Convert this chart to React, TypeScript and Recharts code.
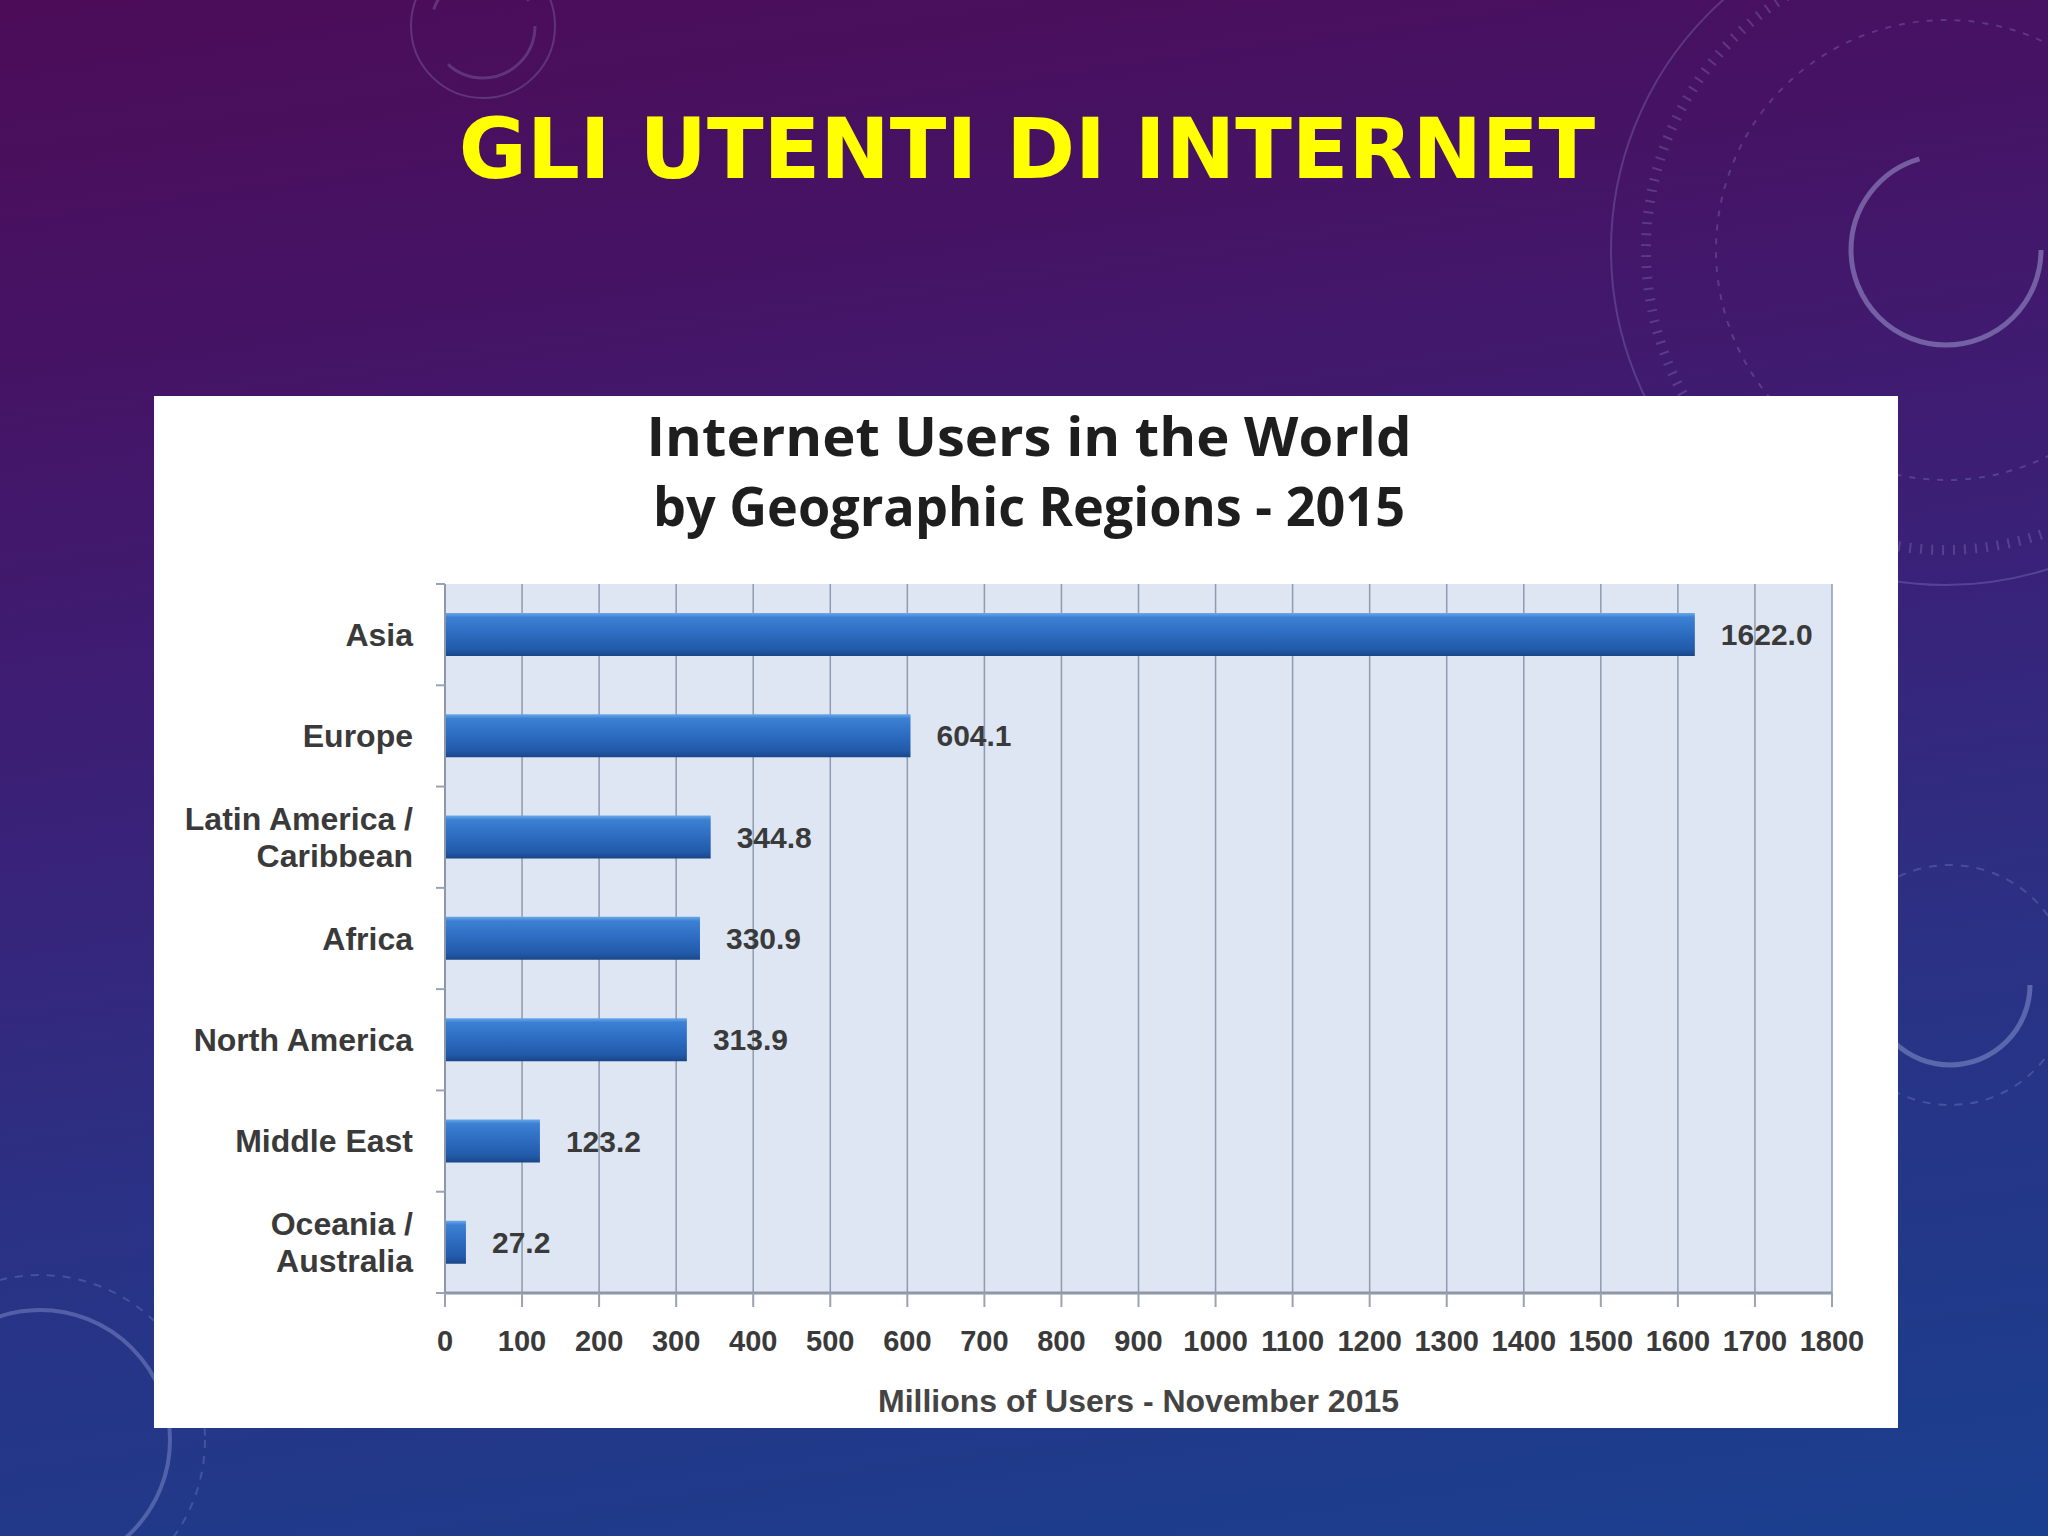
import { Bar, BarChart, CartesianGrid, LabelList, XAxis, YAxis } from 'recharts'

const REGIONS = [
  'Asia',
  'Europe',
  'Latin America /\nCaribbean',
  'Africa',
  'North America',
  'Middle East',
  'Oceania  /\nAustralia',
]

const USERS = [1622.0, 604.1, 344.8, 330.9, 313.9, 123.2, 27.2]

const X_TICKS = [
  0, 100, 200, 300, 400, 500, 600, 700, 800, 900,
  1000, 1100, 1200, 1300, 1400, 1500, 1600, 1700, 1800,
]

const SLIDE_TITLE = 'GLI UTENTI DI INTERNET'
const CHART_TITLE = ['Internet Users in the World', 'by Geographic Regions - 2015']
const X_LABEL = 'Millions of Users - November 2015'

const data = REGIONS.map((region, i) => ({ region, users: USERS[i] }))

const CHART_W = 1744
const CHART_H = 1032
const MARGIN = { top: 188, right: 66, bottom: 0, left: 0 }
const X_AXIS_H = 135
const BAND = (CHART_H - MARGIN.top - X_AXIS_H) / REGIONS.length

const LABEL_FONT = '"Liberation Sans", Arial, sans-serif'

function RegionTick({ x, y, payload, index }: any) {
  const lines = String(payload.value).split('\n')
  const axisX = x + 8
  const lineH = 37
  const startY = y - ((lines.length - 1) * lineH) / 2
  return (
    <g>
      <line x1={axisX - 9} x2={axisX} y1={y - BAND / 2} y2={y - BAND / 2} stroke="#9aa3b2" strokeWidth={2} />
      {index === REGIONS.length - 1 && (
        <line x1={axisX - 9} x2={axisX} y1={y + BAND / 2} y2={y + BAND / 2} stroke="#9aa3b2" strokeWidth={2} />
      )}
      <text
        x={axisX - 32}
        y={startY}
        textAnchor="end"
        dominantBaseline="central"
        fill="#3a3a3a"
        fontSize={32}
        fontWeight="bold"
        fontFamily={LABEL_FONT}
      >
        {lines.map((line, i) => (
          <tspan key={i} x={axisX - 32} dy={i === 0 ? 0 : lineH}>
            {line}
          </tspan>
        ))}
      </text>
    </g>
  )
}

function Decorations() {
  const ring = 'rgba(190,200,255,0.2)'
  return (
    <svg width={2048} height={1536} style={{ position: 'absolute', left: 0, top: 0 }}>
      <circle cx={483} cy={26} r={72} fill="none" stroke={ring} strokeWidth={2} />
      <circle cx={483} cy={26} r={52} fill="none" stroke={ring} strokeWidth={3} strokeDasharray="120 60" />
      <circle cx={1946} cy={250} r={335} fill="none" stroke={ring} strokeWidth={2} />
      <circle cx={1946} cy={250} r={300} fill="none" stroke={ring} strokeWidth={10} strokeDasharray="2 9" />
      <circle cx={1946} cy={250} r={230} fill="none" stroke={ring} strokeWidth={2} strokeDasharray="6 8" />
      <circle cx={1946} cy={250} r={95} fill="none" stroke="rgba(200,210,255,0.38)" strokeWidth={5} strokeDasharray="420 180" />
      <circle cx={1950} cy={985} r={120} fill="none" stroke={ring} strokeWidth={2} strokeDasharray="8 8" />
      <circle cx={1950} cy={985} r={80} fill="none" stroke="rgba(200,210,255,0.32)" strokeWidth={5} strokeDasharray="260 250" />
      <circle cx={40} cy={1440} r={130} fill="none" stroke="rgba(200,210,255,0.28)" strokeWidth={4} />
      <circle cx={40} cy={1440} r={165} fill="none" stroke={ring} strokeWidth={2} strokeDasharray="8 8" />
    </svg>
  )
}

export default function App() {
  return (
    <div
      style={{
        position: 'absolute',
        left: 0,
        top: 0,
        width: 2048,
        height: 1536,
        overflow: 'hidden',
        background:
          'linear-gradient(172deg, #4c0c58 0%, #451466 22%, #3a2178 45%, #2a3285 68%, #1a3f8e 100%)',
      }}
    >
      <Decorations />
      <div
        style={{
          position: 'absolute',
          left: 0,
          width: 2054,
          top: 100,
          height: 100,
          lineHeight: '100px',
          textAlign: 'center',
          color: '#ffff00',
          fontFamily: '"DejaVu Sans", Verdana, sans-serif',
          fontWeight: 'bold',
          fontSize: 83,
        }}
      >
        {SLIDE_TITLE}
      </div>
      <div
        style={{
          position: 'absolute',
          left: 154,
          top: 396,
          width: CHART_W,
          height: CHART_H,
          background: '#ffffff',
        }}
      >
        <svg width={CHART_W} height={170} style={{ position: 'absolute', left: 0, top: 0 }}>
          {CHART_TITLE.map((line, i) => (
            <text
              key={line}
              x={CHART_W / 2 + 3}
              y={60 + i * 70}
              textAnchor="middle"
              textLength={i === 0 ? 765 : 752}
              lengthAdjust="spacingAndGlyphs"
              fill="#1e1e1e"
              fontFamily='"Open Sans", "Noto Sans", sans-serif'
              fontWeight={700}
              fontSize={54}
            >
              {line}
            </text>
          ))}
        </svg>
        <BarChart
          width={CHART_W}
          height={CHART_H}
          data={data}
          layout="vertical"
          margin={MARGIN}
          style={{ position: 'absolute', left: 0, top: 0 }}
        >
          <defs>
            <linearGradient id="barGrad" x1="0" y1="0" x2="0" y2="1">
              <stop offset="0%" stopColor="#6aa8ea" />
              <stop offset="10%" stopColor="#3c80d4" />
              <stop offset="50%" stopColor="#2c6bc0" />
              <stop offset="85%" stopColor="#215aa8" />
              <stop offset="100%" stopColor="#1a4688" />
            </linearGradient>
          </defs>
          <CartesianGrid horizontal={false} fill="#dde6f2" stroke="#8e9bb0" strokeWidth={1.5} />
          <XAxis
            type="number"
            dataKey="users"
            domain={[0, 1800]}
            ticks={X_TICKS}
            interval={0}
            height={X_AXIS_H}
            tickSize={14}
            tickMargin={23}
            axisLine={{ stroke: '#8d97a8', strokeWidth: 3 }}
            tickLine={{ stroke: '#9aa3b2', strokeWidth: 2 }}
            tick={{ fill: '#3a3a3a', fontSize: 29, fontWeight: 'bold', fontFamily: LABEL_FONT }}
            label={{
              value: X_LABEL,
              position: 'insideBottom',
              offset: 16,
              fill: '#444444',
              fontSize: 32,
              fontWeight: 'bold',
              fontFamily: LABEL_FONT,
            }}
          />
          <YAxis
            type="category"
            dataKey="region"
            width={291}
            interval={0}
            tickLine={false}
            axisLine={{ stroke: '#8d97a8', strokeWidth: 2 }}
            tick={<RegionTick />}
          />
          <Bar dataKey="users" fill="url(#barGrad)" barSize={43} isAnimationActive={false}>
            <LabelList
              dataKey="users"
              position="right"
              offset={26}
              formatter={(v: any) => Number(v).toFixed(1)}
              fill="#3a3a3a"
              fontSize={30}
              fontWeight="bold"
              fontFamily={LABEL_FONT}
            />
          </Bar>
        </BarChart>
      </div>
    </div>
  )
}
